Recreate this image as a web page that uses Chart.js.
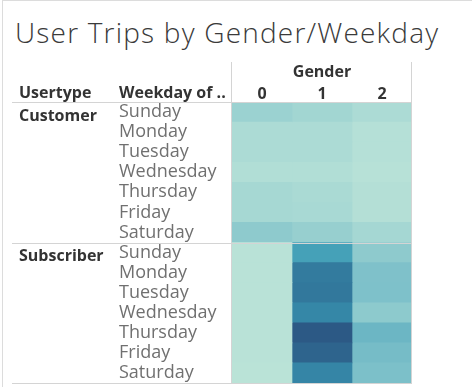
<!DOCTYPE html>
<html>
<head>
<meta charset="utf-8">
<script src="https://cdn.jsdelivr.net/npm/chart.js"></script>
<style>
  html, body { margin: 0; padding: 0; background: #fff; }
  #frame { position: absolute; left: 2px; top: 0; width: 470px; height: 387px;
           border-left: 1px solid #dcdcdc; border-top: 1px solid #dcdcdc; box-sizing: border-box; }
  #title { position: absolute; left: 15px; top: 18px; font: 300 28px "Open Sans"; color: #3a3a3a;
           letter-spacing: 1.2px; white-space: nowrap; line-height: 1; }
  .head { position: absolute; top: 84px; font: bold 16px "Open Sans"; color: #333;
          white-space: nowrap; line-height: 1; }
  #wrap { position: absolute; left: 0; top: 0; width: 472px; height: 387px; }
</style>
</head>
<body>
<div id="frame"></div>
<div id="title">User Trips by Gender/Weekday</div>
<div id="wrap"><canvas id="chart"></canvas></div>
<div class="head" style="left:19px">Usertype</div>
<div class="head" style="left:119px">Weekday of ..</div>
<script>
// data
const usertypes = ['Customer', 'Subscriber'];
const weekdays = ['Sunday', 'Monday', 'Tuesday', 'Wednesday', 'Thursday', 'Friday', 'Saturday'];
const genders = ['0', '1', '2'];

const customer0 = [19500, 9000, 9200, 6000, 12800, 12600, 28500];
const customer1 = [15000, 9100, 9000, 6200, 10500, 11300, 22500];
const customer2 = [9000, 3800, 3700, 3000, 4500, 4600, 13500];
const subscriber0 = [1500, 1700, 1600, 1500, 1800, 1700, 1400];
const subscriber1 = [75800, 114000, 117000, 102000, 150000, 138000, 103500];
const subscriber2 = [28500, 39000, 39200, 28800, 51000, 45000, 40500];

// tableau blue-teal sequential
const palette = ['#bce4d8', '#aedcd5', '#a1d5d2', '#95cecf', '#89c8cc', '#7ec1ca', '#72bac6',
  '#66b2c2', '#59acbe', '#4ba5ba', '#419eb6', '#3b96b2', '#358ead', '#3586a7', '#347ea1',
  '#32779b', '#316f96', '#2f6790', '#2d608a', '#2c5985'];

const values = [
  customer0.concat(subscriber0),
  customer1.concat(subscriber1),
  customer2.concat(subscriber2)
];
const maxTrips = Math.max(...values.flat());

function hexToRgb(h) {
  return [1, 3, 5].map(i => parseInt(h.slice(i, i + 2), 16));
}
function tripColor(v) {
  const pos = (v / maxTrips) * (palette.length - 1);
  const i = Math.min(Math.floor(pos), palette.length - 2);
  const f = pos - i;
  const a = hexToRgb(palette[i]), b = hexToRgb(palette[i + 1]);
  const c = a.map((x, k) => Math.round(x + (b[k] - x) * f));
  return 'rgb(' + c.join(',') + ')';
}

const rowLabels = usertypes.flatMap(() => weekdays);
const groupLabels = usertypes.flatMap(u => weekdays.map((d, i) => i === 0 ? u : ''));

const lineColor = '#d4d4d4';
const dividers = {
  id: 'dividers',
  afterDatasetsDraw(chart) {
    const { ctx, chartArea: a, scales: { y } } = chart;
    const groupEdge = (y.getPixelForTick(weekdays.length - 1) + y.getPixelForTick(weekdays.length)) / 2;
    ctx.save();
    ctx.strokeStyle = lineColor;
    ctx.lineWidth = 1;
    ctx.beginPath();
    [a.top, groupEdge, a.bottom].forEach(py => {
      const yy = Math.round(py) + 0.5;
      ctx.moveTo(12, yy);
      ctx.lineTo(a.right, yy);
    });
    [a.left, a.right].forEach(px => {
      const xx = Math.round(px) - 0.5;
      ctx.moveTo(xx, 62);
      ctx.lineTo(xx, a.bottom + 1);
    });
    ctx.stroke();
    ctx.restore();
  }
};

// drop the half-label padding the category axes ask for
const noPad = s => { s.paddingTop = 0; s.paddingBottom = 0; };

new Chart('chart', {
  type: 'bar',
  data: {
    labels: rowLabels,
    datasets: genders.map((g, gi) => ({
      label: g,
      data: rowLabels.map(() => 1),
      backgroundColor: values[gi].map(tripColor),
      borderWidth: 0,
      barPercentage: 1,
      categoryPercentage: 1,
      yAxisID: 'y'
    }))
  },
  options: {
    indexAxis: 'y',
    responsive: true,
    maintainAspectRatio: false,
    animation: false,
    layout: { padding: { left: 19, right: 60, top: 62, bottom: 4 } },
    plugins: { legend: { display: false }, tooltip: { enabled: false } },
    scales: {
      x: {
        type: 'linear',
        position: 'top',
        stacked: true,
        min: 0,
        max: genders.length,
        afterBuildTicks: s => { s.ticks = genders.map((g, i) => ({ value: i + 0.5 })); },
        afterFit: s => { s.height = 40; s.paddingLeft = 0; s.paddingRight = 0; },
        ticks: {
          callback: (v, i) => genders[i],
          font: { family: 'Open Sans', size: 16, weight: 'bold' },
          color: '#333',
          padding: -2,
          maxRotation: 0,
          autoSkip: false
        },
        title: {
          display: true,
          text: 'Gender',
          font: { family: 'Open Sans', size: 16, weight: 'bold' },
          color: '#333',
          padding: { top: 1, bottom: 0 }
        },
        grid: { display: false, drawTicks: false },
        border: { display: false }
      },
      y: {
        type: 'category',
        position: 'left',
        stacked: true,
        offset: true,
        weight: 0,
        afterFit: s => { s.width = 113; noPad(s); },
        ticks: {
          crossAlign: 'far',
          font: { family: 'Open Sans', size: 18 },
          color: '#707070',
          autoSkip: false
        },
        grid: { display: false, drawTicks: false },
        border: { display: false }
      },
      yType: {
        type: 'category',
        position: 'left',
        labels: groupLabels,
        offset: true,
        weight: 1,
        afterFit: s => { s.width = 100; noPad(s); },
        ticks: {
          crossAlign: 'far',
          labelOffset: 4,
          font: { family: 'Open Sans', size: 16, weight: 'bold' },
          color: '#333',
          autoSkip: false
        },
        grid: { display: false, drawTicks: false },
        border: { display: false }
      }
    }
  },
  plugins: [dividers]
});
</script>
</body>
</html>
